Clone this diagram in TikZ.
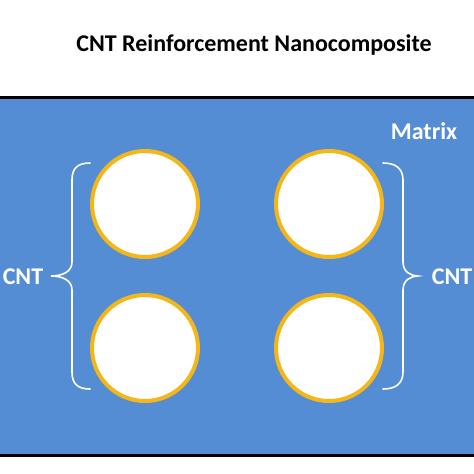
\documentclass[tikz,border=0pt]{standalone}
\usepackage{fontspec}
\setmainfont{Carlito}
\usepackage{xcolor}
\usetikzlibrary{positioning,calc}

\definecolor{matrixblue}{RGB}{85,141,213}
\definecolor{cntyellow}{RGB}{245,183,24}

\begin{document}
\begin{tikzpicture}[x=1pt, y=-1pt,
    tube/.style={circle, draw=cntyellow, fill=white, line width=4pt, minimum size=106pt, inner sep=0pt},
    label/.style={text=white, font=\bfseries\fontsize{24}{28}\selectfont, inner sep=0pt},
    bracket/.style={draw=white, line width=1.6pt, line cap=round}]

    \useasboundingbox (0,0) rectangle (474,474);
    \fill[white] (0,0) rectangle (474,474);

    % matrix block
    \fill[matrixblue] (0,97) rectangle (474,455);
    \draw[black, line width=3pt] (0,97) -- (474,97);
    \draw[black, line width=3pt] (0,455) -- (474,455);

    \node[font=\bfseries\fontsize{24}{28}\selectfont, inner sep=0pt] (title) at (254,45) {CNT Reinforcement Nanocomposite};
    \node[label] (matrix) at (424,131) {Matrix};

    % nanotubes
    \node[tube] (tl) at (145,204) {};
    \node[tube] (bl) at (145,348) {};
    \node[tube] (tr) at (329,204) {};
    \node[tube] (br) at (329,348) {};

    % braces
    \draw[bracket] (90,163) .. controls (78,163) and (72,168) .. (72,180) -- (72,262)
        .. controls (72,272) and (62,276) .. (51,276)
        .. controls (62,276) and (72,280) .. (72,290) -- (72,372)
        .. controls (72,384) and (78,389) .. (90,389);
    \draw[bracket] (383,163) .. controls (395,163) and (403,168) .. (403,180) -- (403,262)
        .. controls (403,272) and (411,276) .. (418,276)
        .. controls (411,276) and (403,280) .. (403,290) -- (403,372)
        .. controls (403,384) and (395,389) .. (383,389);

    \node[label] (cntl) at (23,277) {CNT};
    \node[label] (cntr) at (452,277) {CNT};
\end{tikzpicture}
\end{document}
